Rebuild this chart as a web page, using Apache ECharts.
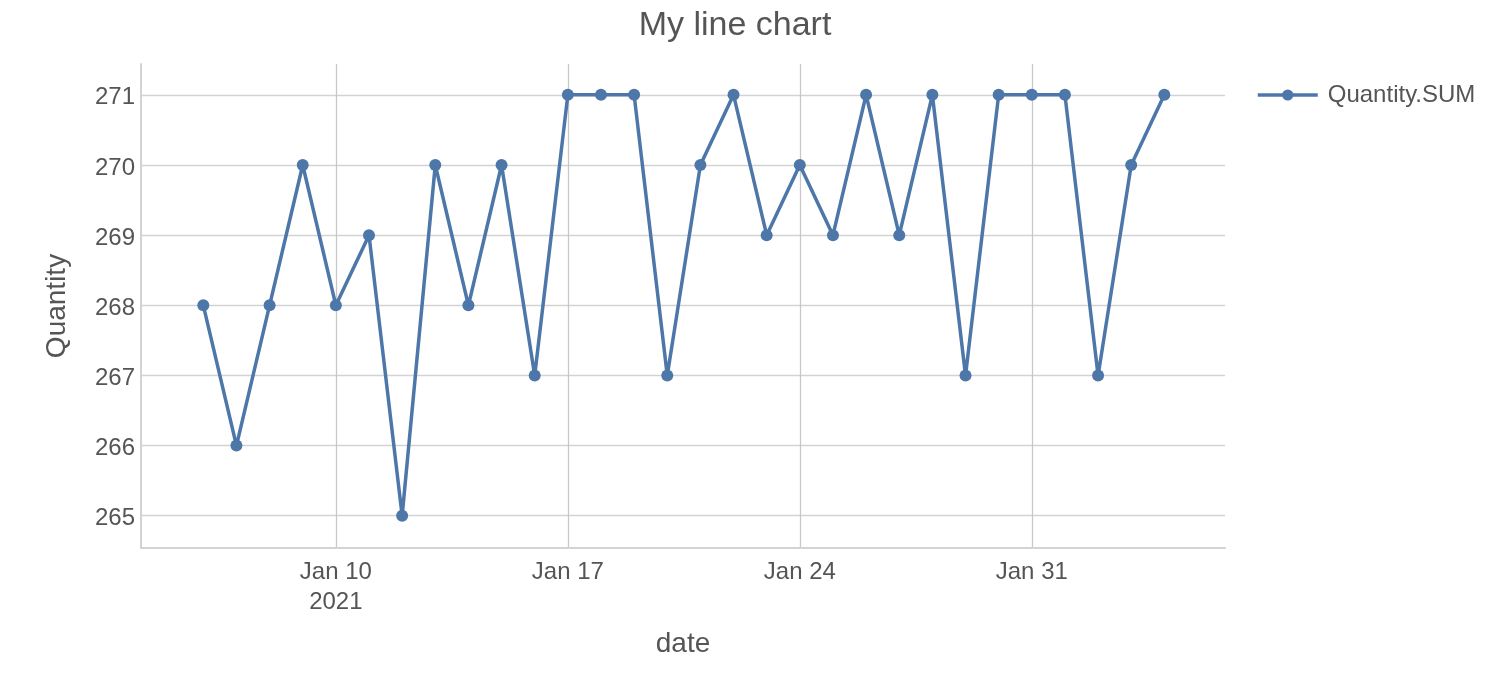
<!DOCTYPE html>
<html>
<head>
<meta charset="utf-8">
<script src="https://cdn.jsdelivr.net/npm/echarts@6/dist/echarts.min.js"></script>
<style>html,body{margin:0;padding:0;background:#fff}#c{width:1506px;height:684px}</style>
</head>
<body>
<div id="c"></div>
<script>
const dates = ['2021-01-06','2021-01-07','2021-01-08','2021-01-09','2021-01-10','2021-01-11','2021-01-12','2021-01-13','2021-01-14','2021-01-15','2021-01-16','2021-01-17','2021-01-18','2021-01-19','2021-01-20','2021-01-21','2021-01-22','2021-01-23','2021-01-24','2021-01-25','2021-01-26','2021-01-27','2021-01-28','2021-01-29','2021-01-30','2021-01-31','2021-02-01','2021-02-02','2021-02-03','2021-02-04'];
const quantity = [268,266,268,270,268,269,265,270,268,270,267,271,271,271,267,270,271,269,270,269,271,269,271,267,271,271,271,267,270,271];
const xTickDates = ['2021-01-10','2021-01-17','2021-01-24','2021-01-31'];
const xTickLabels = ['Jan 10\n2021','Jan 17','Jan 24','Jan 31'];
const yTicks = [265,266,267,268,269,270,271];

const DAY = 86400000;
const ts = s => Date.parse(s + 'T00:00:00Z');
const origin = ts('2021-01-10');
const dayNum = s => Math.round((ts(s) - origin) / DAY);
const xTickVals = xTickDates.map(dayNum);
const labelMap = {};
xTickVals.forEach((v, i) => { labelMap[v] = xTickLabels[i]; });

const chart = echarts.init(document.getElementById('c'), null, {renderer: 'canvas'});
const font = 'Liberation Sans, Arial, sans-serif';
const textColor = '#555555';
chart.setOption({
  animation: false,
  textStyle: {fontFamily: font},
  title: {
    text: 'My line chart', left: 730, top: 4, textAlign: 'center',
    textStyle: {fontFamily: font, fontSize: 34, fontWeight: 'normal', color: textColor}
  },
  legend: {
    left: 1251, top: 78, itemWidth: 60, itemHeight: 14, itemGap: 10,
    textStyle: {fontFamily: font, fontSize: 24, color: textColor, padding: [0, 0, 0, 5]},
    lineStyle: {width: 3.5},
    data: ['Quantity.SUM']
  },
  grid: {left: 141, right: 281, top: 64, bottom: 136, containLabel: false},
  xAxis: {
    type: 'value',
    min: -5.88, max: 26.83,
    name: 'date', nameLocation: 'middle', nameGap: 82,
    nameTextStyle: {fontFamily: font, fontSize: 28, color: textColor},
    axisLine: {show: true, onZero: false, lineStyle: {color: '#d3d3d3', width: 2}},
    axisTick: {show: false, customValues: xTickVals},
    axisLabel: {
      customValues: xTickVals, margin: 9, lineHeight: 30,
      fontFamily: font, fontSize: 24, color: textColor,
      formatter: v => labelMap[v] || ''
    },
    splitLine: {show: true, lineStyle: {color: '#c8c8c8', width: 1.3}}
  },
  yAxis: {
    type: 'value',
    min: 264.54, max: 271.44,
    name: 'Quantity', nameLocation: 'middle', nameGap: 70,
    nameTextStyle: {fontFamily: font, fontSize: 28, color: textColor},
    axisLine: {show: true, onZero: false, lineStyle: {color: '#d3d3d3', width: 2}},
    axisTick: {show: false, customValues: yTicks},
    axisLabel: {customValues: yTicks, margin: 6, verticalAlign: 'top', lineHeight: 6, fontFamily: font, fontSize: 24, color: textColor},
    splitLine: {show: true, lineStyle: {color: '#d3d3d3', width: 1.3}}
  },
  series: [{
    name: 'Quantity.SUM', type: 'line',
    data: dates.map((d, i) => [dayNum(d), quantity[i]]),
    symbol: 'circle', symbolSize: 12, showSymbol: true,
    lineStyle: {color: '#4c77a8', width: 3.5},
    itemStyle: {color: '#4c77a8'}
  }]
});
</script>
</body>
</html>
